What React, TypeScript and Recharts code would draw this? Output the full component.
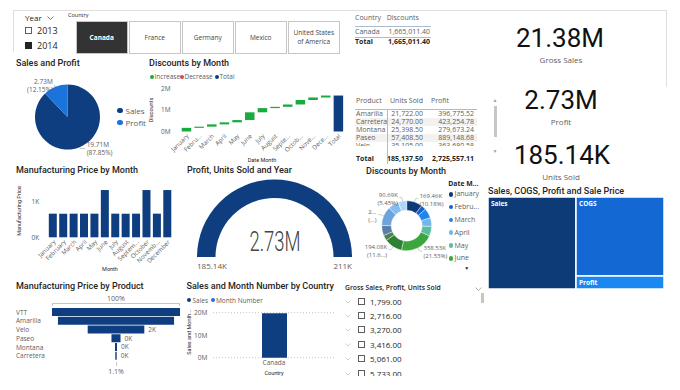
import React from "react";
import {
  PieChart, Pie, Cell, BarChart, Bar, XAxis, YAxis, CartesianGrid, Treemap, LabelList,
} from "recharts";

const DARK = "#0f3e80";
const MID = "#1b73dc";
const TEXT = "#252423";
const GRAY = "#605e5c";
const LINE = "#e1dfdd";
const DIN = "Roboto, 'DejaVu Sans', sans-serif";
const SEGOE = "'Open Sans', 'Noto Sans', sans-serif";
const RAD = Math.PI / 180;
const NO_MARGIN = { top: 0, right: 0, bottom: 0, left: 0 };

// slicers
const years = ["2013", "2014"];
const selectedYears = ["2014"];
const countries = ["Canada", "France", "Germany", "Mexico", "United States of America"];
const selectedCountry = "Canada";

// country / discounts table
const tableCountries = ["Canada"];
const tableDiscounts = [1665011.4];

// cards
const cardLabels = ["Gross Sales", "Profit", "Units Sold"];
const cardValues = [21380000, 2725557.11, 185137.5];

// sales and profit
const pieNames = ["Sales", "Profit"];
const pieValues = [19710000, 2725557];
const pieColors = [DARK, MID];

// discounts by month
const months = [
  "January", "February", "March", "April", "May", "June",
  "July", "August", "September", "October", "November", "December",
];
const monthDiscounts = [
  169460, 55000, 105000, 95000, 105540, 358530, 194080, 60000, 108000, 207630, 116080, 90690,
];
const waterfallTicks = [
  "January", "Febru...", "March", "April", "May", "June", "July", "August",
  "Septe...", "Octob...", "Nove...", "Dece...", "Total",
];
const waterfallKinds = ["Increase", "Decrease", "Total"];
const waterfallColors = ["#1aab40", "#d64554", DARK];

// product table
const products = ["Amarilla", "Carretera", "Montana", "Paseo", "Velo"];
const productUnits = [21722, 24770, 25398.5, 57408.5, 35105];
const productProfit = [396775.52, 423254.78, 279673.24, 889148.68, 363680.58];
const totalUnits = 185137.5;
const totalProfit = 2725557.11;

// manufacturing price by month
const mfgMonthTicks = [
  "January", "February", "March", "April", "May", "June", "July", "August",
  "Septem...", "October", "Novemb...", "December",
];
const mfgMonthValues = [665, 665, 665, 665, 665, 1330, 665, 665, 665, 1330, 665, 1330];

// gauge
const gaugeValue = 2725557.11;
const gaugeMin = 185140;
const gaugeMax = 211000;

// donut
const donutColors = [
  "#0f3a78", "#1860d0", "#1f86ea", "#6fb8ef", "#5cbd9c", "#3aa63d",
  "#2f7f34", "#4e7f52", "#5b7ea6", "#6ea4dc", "#84bdee", "#aed6f5",
];
const donutLegendTicks = ["January", "Febru...", "March", "April", "May", "June"];
const donutLabelled = [0, 5, 6, 9, 11];

// treemap
const treeNames = ["Sales", "COGS", "Profit"];
const treeValues = [19710000, 16984443, 2725557];
const treeColors = ["#0c3b78", "#1468d4", "#1a88f0"];

// funnel
const funnelProducts = ["VTT", "Amarilla", "Velo", "Paseo", "Montana", "Carretera"];
const funnelValues = [4520, 4100, 2000, 320, 70, 50];

// sales and month number by country
const salesCountries = ["Canada"];
const salesValues = [19710000];
const monthNumberValues = [78];
const salesSeries = ["Sales", "Month Number"];

// hierarchy slicer
const grossSalesItems = [1799, 2716, 3270, 3416, 5061, 5733];

const short = (v: number) =>
  v >= 1e6 ? `${(v / 1e6).toFixed(2)}M` : `${+(v / 1e3).toFixed(2)}K`;
const num2 = (v: number) =>
  v.toLocaleString("en-US", { minimumFractionDigits: 2, maximumFractionDigits: 2 });

let running = 0;
const waterfallData = monthDiscounts.map((d, i) => {
  const base = running;
  running += d;
  return { label: waterfallTicks[i], base, delta: d, kind: d >= 0 ? 0 : 1 };
});
waterfallData.push({ label: waterfallTicks[12], base: 0, delta: running, kind: 2 });

const mfgData = mfgMonthTicks.map((m, i) => ({ month: m, price: mfgMonthValues[i] }));
const pieData = pieNames.map((n, i) => ({ name: n, value: pieValues[i] }));
const donutData = months.map((m, i) => ({ name: m, value: monthDiscounts[i] }));
const treeData = treeNames.map((n, i) => ({ name: n, size: treeValues[i] }));
const funnelMax = Math.max(...funnelValues);
const funnelData = funnelProducts.map((p, i) => ({
  name: p, pad: (funnelMax - funnelValues[i]) / 2, value: funnelValues[i],
}));
const salesData = salesCountries.map((c, i) => ({
  country: c, sales: salesValues[i], monthNumber: monthNumberValues[i],
}));
const gaugeFill = Math.min(1, Math.max(0, (gaugeValue - gaugeMin) / (gaugeMax - gaugeMin)));
const gaugeData = [{ v: gaugeFill }, { v: 1 - gaugeFill }];

function Txt({ x, y, size = 8, color = TEXT, weight = 400, family = SEGOE, anchor = "start", children }: any) {
  const lh = Math.round(size * 1.4);
  const tx = anchor === "middle" ? "-50%" : anchor === "end" ? "-100%" : "0";
  return (
    <div style={{
      position: "absolute", left: x, top: y - lh / 2, lineHeight: `${lh}px`, fontSize: size,
      color, fontWeight: weight, fontFamily: family, whiteSpace: "nowrap", transform: `translateX(${tx})`,
    }}>{children}</div>
  );
}

function RotTxt({ x, y, size = 5.5, children }: any) {
  return (
    <div style={{
      position: "absolute", left: x, top: y, fontSize: size, lineHeight: `${size + 2}px`, color: TEXT,
      fontFamily: DIN, whiteSpace: "nowrap", transform: "translate(-50%, -50%) rotate(-90deg)",
    }}>{children}</div>
  );
}

const Title = ({ x, y, children }: any) => <Txt x={x} y={y} size={9} family={DIN} weight={500}>{children}</Txt>;

function Dot({ x, y, color, r = 2.6 }: any) {
  return <div style={{ position: "absolute", left: x - r, top: y - r, width: r * 2, height: r * 2, borderRadius: "50%", background: color }} />;
}

function Chevron({ x, y, color = GRAY, w = 6 }: any) {
  return (
    <svg style={{ position: "absolute", left: x, top: y }} width={w + 1} height={w / 2 + 1}>
      <polyline points={`0.5,0.5 ${w / 2 + 0.5},${w / 2 + 0.5} ${w + 0.5},0.5`} stroke={color} fill="none" strokeWidth={0.8} />
    </svg>
  );
}

function pieLabel(p: any) {
  const { cx, cy, midAngle, outerRadius, value, percent } = p;
  const cos = Math.cos(-midAngle * RAD);
  const sin = Math.sin(-midAngle * RAD);
  const sx = cx + outerRadius * cos, sy = cy + outerRadius * sin;
  const mx = cx + (outerRadius + 1.5) * cos, my = cy + (outerRadius + 1.5) * sin;
  const right = cos >= 0;
  const ex = mx + (right ? 5 : -1);
  const tx = ex + (right ? 1.5 : -1);
  return (
    <g>
      <polyline points={`${sx},${sy} ${mx},${my} ${ex},${my}`} stroke="#a19f9d" fill="none" strokeWidth={0.6} />
      <text x={tx} y={my} textAnchor={right ? "start" : "end"} fontSize={6.5} fill={GRAY} fontFamily={SEGOE}>
        <tspan x={tx} dy={-1.5}>{short(value)}</tspan>
        <tspan x={tx} dy={8}>({(percent * 100).toFixed(2)}%)</tspan>
      </text>
    </g>
  );
}

const charW = (s: string) =>
  s.split("").reduce((w, c) => w + (c === "." ? 2 : c === "(" || c === ")" ? 2.2 : 3.4), 0);
const fit = (s: string, avail: number) => {
  if (charW(s) <= avail) return s;
  for (let k = s.length - 1; k > 0; k--) {
    const c = s.slice(0, k) + "...";
    if (charW(c) <= avail) return c;
  }
  return "...";
};

function donutLabel(p: any) {
  const { cx, cy, midAngle, outerRadius, value, percent, index } = p;
  if (!donutLabelled.includes(index)) return null;
  const cos = Math.cos(-midAngle * RAD);
  const sin = Math.sin(-midAngle * RAD);
  const sx = cx + outerRadius * cos, sy = cy + outerRadius * sin;
  const mx = cx + (outerRadius + 3.5) * cos, my = cy + (outerRadius + 3.5) * sin;
  const right = cos >= 0;
  const ex = mx + (right ? 2.5 : -2.5);
  const tx = ex + (right ? 1.5 : -1.5);
  const avail = right ? 87 - tx : tx - 2;
  const l1 = fit(short(value), avail);
  const l2 = `(${fit(`${(percent * 100).toFixed(2)}%`, avail - 4.4)})`;
  return (
    <g>
      <polyline points={`${sx},${sy} ${mx},${my} ${ex},${my}`} stroke="#a19f9d" fill="none" strokeWidth={0.5} />
      <text x={tx} y={my} textAnchor={right ? "start" : "end"} fontSize={6} fill={GRAY} fontFamily={SEGOE}>
        <tspan x={tx} dy={-1}>{l1}</tspan>
        <tspan x={tx} dy={8}>{l2}</tspan>
      </text>
    </g>
  );
}

function TreeCell(props: any) {
  const { x, y, width, height, depth, name } = props;
  if (depth !== 1) return null;
  const i = treeNames.indexOf(name);
  return (
    <g>
      <rect x={x} y={y} width={width} height={height} fill={treeColors[i]} stroke="#fff" strokeWidth={1.5} />
      <text x={x + 3} y={y + 9} fontSize={6.5} fontWeight={700} fill="#fff" fontFamily={SEGOE}>{name}</text>
    </g>
  );
}

function FunnelTick({ y, payload }: any) {
  return <text x={16} y={y} dy={2.3} fontSize={6.5} fill={GRAY} fontFamily={SEGOE}>{payload.value}</text>;
}

function FunnelValue({ x, y, width, height, value }: any) {
  if (width > 80) return null;
  return (
    <text x={x + width + 4} y={y + height / 2} dy={2.3} fontSize={6.5} fill={GRAY} fontFamily={SEGOE}>
      {Math.round(value / 1000)}K
    </text>
  );
}

const tickStyle = { fontSize: 6.2, fill: GRAY, fontFamily: SEGOE };

export default function App() {
  return (
    <div style={{ position: "absolute", left: 0, top: 0, width: 680, height: 390, overflow: "hidden", background: "#fff", fontFamily: SEGOE }}>
      <div style={{ position: "absolute", left: 13, top: 10, width: 653, borderTop: `1px solid ${LINE}` }} />
      <div style={{ position: "absolute", left: 13, top: 10, height: 42, borderLeft: `1px solid ${LINE}` }} />
      <div style={{ position: "absolute", left: 666, top: 10, height: 77, borderLeft: `1px solid ${LINE}` }} />

      {/* year slicer */}
      <Txt x={25} y={17.5} size={8}>Year</Txt>
      <Chevron x={47} y={16} />
      {years.map((yr, i) => (
        <React.Fragment key={yr}>
          <div style={{
            position: "absolute", left: 25, top: 26.5 + i * 15, width: 7, height: 7, boxSizing: "border-box",
            border: `1px solid ${selectedYears.includes(yr) ? TEXT : GRAY}`,
            background: selectedYears.includes(yr) ? TEXT : "#fff",
          }} />
          <Txt x={37} y={30 + i * 15} size={9}>{yr}</Txt>
        </React.Fragment>
      ))}

      {/* country slicer */}
      <Txt x={68} y={15} size={5.5}>Country</Txt>
      {countries.map((c, i) => {
        const sel = c === selectedCountry;
        return (
          <div key={c} style={{
            position: "absolute", left: 76 + i * 53, top: 21, width: 51.5, height: 32.5, boxSizing: "border-box",
            border: "1px solid #c8c6c4", background: sel ? "#333" : "#fff", color: sel ? "#fff" : "#444",
            fontWeight: sel ? 700 : 400, fontSize: 6.5, lineHeight: "9px", display: "flex", alignItems: "center",
            justifyContent: "center", textAlign: "center", padding: 0, fontFamily: SEGOE,
          }}><span style={{ maxWidth: 45 }}>{c}</span></div>
        );
      })}

      {/* country / discounts table */}
      <Txt x={355} y={18.3} size={7} color={GRAY}>Country</Txt>
      <Txt x={386.7} y={18.3} size={7} color={GRAY}>Discounts</Txt>
      <div style={{ position: "absolute", left: 355, top: 25.5, width: 76, borderTop: "1px solid #a9bcd4" }} />
      {tableCountries.map((c, i) => (
        <React.Fragment key={c}>
          <Txt x={355} y={31.5 + i * 8} size={7} color={GRAY}>{c}</Txt>
          <Txt x={430} y={31.5 + i * 8} size={7} color={GRAY} anchor="end">{num2(tableDiscounts[i])}</Txt>
        </React.Fragment>
      ))}
      <div style={{ position: "absolute", left: 355, top: 36.5, width: 76, borderTop: "1px solid #a9bcd4" }} />
      <Txt x={355} y={42} size={7} weight={700}>Total</Txt>
      <Txt x={430} y={42} size={7} weight={700} anchor="end">{num2(tableDiscounts.reduce((a, b) => a + b, 0))}</Txt>

      {/* cards */}
      {cardLabels.map((l, i) => (
        <React.Fragment key={l}>
          <Txt x={560 + i} y={[37.5, 100, 154.7][i]} size={26} family={DIN} color="#111" anchor="middle">{short(cardValues[i])}</Txt>
          <Txt x={561} y={[59.5, 121.7, 176.7][i]} size={8} color={GRAY} anchor="middle">{l}</Txt>
        </React.Fragment>
      ))}

      {/* sales and profit pie */}
      <Title x={16} y={63}>Sales and Profit</Title>
      <div style={{ position: "absolute", left: 0, top: 70 }}>
        <PieChart width={150} height={100} margin={NO_MARGIN}>
          <Pie data={pieData} dataKey="value" cx={67.5} cy={47} outerRadius={32.5} startAngle={90} endAngle={-270}
            stroke="none" label={pieLabel} labelLine={false} isAnimationActive={false}>
            {pieData.map((d, i) => <Cell key={d.name} fill={pieColors[i]} />)}
          </Pie>
        </PieChart>
      </div>
      {pieNames.map((n, i) => (
        <React.Fragment key={n}>
          <Dot x={120} y={110.7 + i * 12} color={pieColors[i]} />
          <Txt x={125.5} y={110.7 + i * 12} size={8} color={GRAY}>{n}</Txt>
        </React.Fragment>
      ))}

      {/* discounts waterfall */}
      <Title x={149} y={63}>Discounts by Month</Title>
      {waterfallKinds.map((k, i) => (
        <React.Fragment key={k}>
          <Dot x={[151.7, 181.7, 216.7][i]} y={76.7} color={waterfallColors[i]} r={2.2} />
          <Txt x={[154.5, 184.5, 219.5][i]} y={76.7} size={6.5} color={GRAY}>{k}</Txt>
        </React.Fragment>
      ))}
      <RotTxt x={152} y={110}>Discounts</RotTxt>
      <Txt x={262} y={160} size={5.5} family={DIN} anchor="middle">Date Month</Txt>
      <div style={{ position: "absolute", left: 140, top: 80 }}>
        <BarChart width={215} height={90} data={waterfallData} margin={{ top: 8.3, right: 10.7, bottom: 0, left: 0 }}>
          <XAxis dataKey="label" interval={0} angle={-45} textAnchor="end" height={38.5} axisLine={false}
            tickLine={false} tickSize={0} tickMargin={2} tick={tickStyle} />
          <YAxis width={39.7} domain={[0, 2000000]} ticks={[0, 1000000, 2000000]} tickFormatter={(v) => `${v / 1e6}M`}
            axisLine={false} tickLine={false} tickSize={0} tickMargin={9} tick={{ ...tickStyle, fontSize: 6.5 }} />
          <Bar dataKey="base" stackId="w" fill="transparent" barSize={9.5} isAnimationActive={false} />
          <Bar dataKey="delta" stackId="w" barSize={9.5} isAnimationActive={false}>
            {waterfallData.map((d, i) => <Cell key={i} fill={waterfallColors[d.kind]} />)}
          </Bar>
        </BarChart>
      </div>

      {/* product table */}
      <div style={{ position: "absolute", left: 355, top: 95, width: 122, fontSize: 7, fontFamily: SEGOE }}>
        <div style={{ position: "relative", height: 14, borderBottom: "1px solid #a9bcd4", color: GRAY }}>
          <span style={{ position: "absolute", left: 1, top: 1 }}>Product</span>
          <span style={{ position: "absolute", left: 35, top: 1 }}>Units Sold</span>
          <span style={{ position: "absolute", left: 76, top: 1 }}>Profit</span>
        </div>
        <div style={{ height: 35.5, overflow: "hidden" }}>
          {products.map((p, i) => (
            <div key={p} style={{ position: "relative", height: 8, lineHeight: "8px", color: GRAY, background: i % 2 ? "#f3f2f1" : "#fff" }}>
              <span style={{ position: "absolute", left: 1 }}>{p}</span>
              <span style={{ position: "absolute", right: 54 }}>{num2(productUnits[i])}</span>
              <span style={{ position: "absolute", right: 3 }}>{num2(productProfit[i])}</span>
            </div>
          ))}
        </div>
        <div style={{ position: "relative", height: 10, marginTop: 8, lineHeight: "10px", fontWeight: 700, color: TEXT }}>
          <span style={{ position: "absolute", left: 1 }}>Total</span>
          <span style={{ position: "absolute", right: 54 }}>{num2(totalUnits)}</span>
          <span style={{ position: "absolute", right: 3 }}>{num2(totalProfit)}</span>
        </div>
        <div style={{ position: "absolute", left: 31.7, top: 15, height: 54, borderLeft: "1px solid #a9bcd4" }} />
      </div>
      <Txt x={495} y={100.5} size={5} color="#a19f9d" anchor="middle">▲</Txt>
      <Txt x={495} y={151.5} size={5} color="#a19f9d" anchor="middle">▼</Txt>
      <div style={{ position: "absolute", left: 493.5, top: 106, width: 3.5, height: 31, background: "#c8c6c4" }} />

      {/* manufacturing price by month */}
      <Title x={16} y={170}>Manufacturing Price by Month</Title>
      <RotTxt x={20} y={211}>Manufacturing Price</RotTxt>
      <Txt x={110} y={269} size={5.5} family={DIN} anchor="middle">Month</Txt>
      <div style={{ position: "absolute", left: 0, top: 175 }}>
        <BarChart width={185} height={100} data={mfgData} margin={{ top: 9, right: 12.3, bottom: 0, left: 0 }}>
          <XAxis dataKey="month" interval={0} angle={-45} textAnchor="end" height={37.7} axisLine={false}
            tickLine={false} tickSize={0} tickMargin={2} tick={tickStyle} />
          <YAxis width={47.8} domain={[0, 1500]} ticks={[0, 1000]} tickFormatter={(v) => `${v / 1000}K`}
            axisLine={false} tickLine={false} tickSize={0} tickMargin={8.5} tick={{ ...tickStyle, fontSize: 6.5 }} />
          <Bar dataKey="price" fill={DARK} barSize={8} isAnimationActive={false} />
        </BarChart>
      </div>

      {/* gauge */}
      <Title x={187} y={170.5}>Profit, Units Sold and Year</Title>
      <div style={{ position: "absolute", left: 185, top: 175 }}>
        <PieChart width={180} height={100} margin={NO_MARGIN}>
          <Pie data={gaugeData} dataKey="v" cx={89.5} cy={82} innerRadius={59} outerRadius={77.5}
            startAngle={180} endAngle={0} stroke="none" isAnimationActive={false}>
            <Cell fill={DARK} />
            <Cell fill="#e6e6e6" />
          </Pie>
        </PieChart>
      </div>
      <div style={{
        position: "absolute", left: 274.5, top: 242, fontSize: 28, lineHeight: "32px", fontFamily: DIN, fontWeight: 300,
        color: "#444", whiteSpace: "nowrap", transform: "translate(-50%, -50%) scaleX(0.66)",
      }}>{short(gaugeValue)}</div>
      <Txt x={197} y={265.3} size={8} color={GRAY}>{short(gaugeMin)}</Txt>
      <Txt x={352} y={265.3} size={8} color={GRAY} anchor="end">{short(gaugeMax)}</Txt>

      {/* discounts donut */}
      <Title x={366} y={171}>Discounts by Month</Title>
      <div style={{ position: "absolute", left: 362, top: 180 }}>
        <PieChart width={88} height={95} margin={NO_MARGIN}>
          <Pie data={donutData} dataKey="value" cx={44.7} cy={45.7} innerRadius={15.5} outerRadius={25}
            startAngle={90} endAngle={-270} stroke="#fff" strokeWidth={0.4} label={donutLabel} labelLine={false}
            isAnimationActive={false}>
            {donutData.map((d, i) => <Cell key={d.name} fill={donutColors[i]} />)}
          </Pie>
        </PieChart>
      </div>
      <Txt x={448.3} y={184} size={6.8} weight={700}>Date M...</Txt>
      {donutLegendTicks.map((m, i) => (
        <React.Fragment key={m}>
          <Dot x={451} y={194.3 + i * 12.8} color={donutColors[i]} r={2.4} />
          <Txt x={454.5} y={194.3 + i * 12.8} size={7} color={GRAY}>{m}</Txt>
        </React.Fragment>
      ))}
      <Txt x={466.7} y={268.3} size={5} color={TEXT} anchor="middle">▼</Txt>

      {/* treemap */}
      <Title x={488} y={191}>Sales, COGS, Profit and Sale Price</Title>
      <div style={{ position: "absolute", left: 488, top: 197 }}>
        <Treemap width={176} height={92} data={treeData} dataKey="size" content={<TreeCell />} isAnimationActive={false} />
      </div>

      {/* funnel */}
      <Title x={16} y={286}>Manufacturing Price by Product</Title>
      <Txt x={116} y={299} size={7} color={GRAY} anchor="middle">{Math.round((funnelValues[0] / funnelMax) * 100)}%</Txt>
      <div style={{ position: "absolute", left: 52, top: 303, width: 128, height: 3, boxSizing: "border-box", borderTop: "1px solid #c8c6c4", borderLeft: "1px solid #c8c6c4", borderRight: "1px solid #c8c6c4" }} />
      <div style={{ position: "absolute", left: 52, top: 307.5 }}>
        <BarChart layout="vertical" width={133} height={52.5} data={funnelData} margin={{ top: 0, right: 5, bottom: 0, left: 0 }}>
          <XAxis type="number" hide domain={[0, funnelMax]} />
          <YAxis type="category" dataKey="name" hide />
          <Bar dataKey="pad" stackId="f" fill="transparent" barSize={8} isAnimationActive={false} />
          <Bar dataKey="value" stackId="f" fill={DARK} barSize={8} isAnimationActive={false}>
            <LabelList dataKey="value" content={<FunnelValue />} />
          </Bar>
        </BarChart>
      </div>
      <div style={{ position: "absolute", left: 0, top: 307.5 }}>
        <BarChart layout="vertical" width={52} height={52.5} data={funnelData} margin={NO_MARGIN}>
          <XAxis type="number" hide />
          <YAxis type="category" dataKey="name" width={52} axisLine={false} tickLine={false} interval={0} tick={<FunnelTick />} />
        </BarChart>
      </div>
      <div style={{ position: "absolute", left: 116, top: 362, height: 4, borderLeft: "1px solid #c8c6c4" }} />
      <Txt x={116} y={371.7} size={7} color={GRAY} anchor="middle">
        {((funnelValues[funnelValues.length - 1] / funnelMax) * 100).toFixed(1)}%
      </Txt>

      {/* sales and month number by country */}
      <Title x={186.5} y={286}>Sales and Month Number by Country</Title>
      {salesSeries.map((s, i) => (
        <React.Fragment key={s}>
          <Dot x={[189.3, 212.7][i]} y={300} color={[DARK, MID][i]} r={2.2} />
          <Txt x={[192.5, 215.9][i]} y={300} size={6.5} color={GRAY}>{s}</Txt>
        </React.Fragment>
      ))}
      <RotTxt x={190} y={332}>Sales and Month...</RotTxt>
      <Txt x={274} y={373.3} size={5.5} family={DIN} anchor="middle">Country</Txt>
      <div style={{ position: "absolute", left: 185, top: 290 }}>
        <BarChart width={155} height={95} data={salesData} margin={{ top: 22.7, right: 5, bottom: 0, left: 0 }} barGap={-25}>
          <CartesianGrid vertical={false} stroke="#c8c6c4" strokeDasharray="1 2" />
          <XAxis dataKey="country" axisLine={false} tickLine={false} tickSize={0} tickMargin={3} height={27.3}
            tick={{ ...tickStyle, fontSize: 6.5 }} />
          <YAxis width={28} domain={[0, 20000000]} ticks={[0, 10000000, 20000000]} tickFormatter={(v) => `${v / 1e6}M`}
            axisLine={false} tickLine={false} tickSize={0} tickMargin={5.7} tick={{ ...tickStyle, fontSize: 6.5 }} />
          <Bar dataKey="sales" fill={DARK} barSize={25} isAnimationActive={false} />
          <Bar dataKey="monthNumber" fill={MID} barSize={25} isAnimationActive={false} />
        </BarChart>
      </div>

      {/* hierarchy slicer */}
      <Txt x={345} y={287.7} size={6.8} weight={600}>Gross Sales, Profit, Units Sold</Txt>
      <Chevron x={475} y={286.5} color="#a19f9d" />
      <div style={{ position: "absolute", left: 340, top: 293, width: 140, height: 83, overflow: "hidden" }}>
        {grossSalesItems.map((v, i) => (
          <React.Fragment key={v}>
            <Chevron x={5} y={6.5 + i * 14.4} color="#c8c6c4" w={5} />
            <div style={{ position: "absolute", left: 18, top: 4.5 + i * 14.4, width: 7, height: 7, boxSizing: "border-box", border: `0.8px solid ${GRAY}` }} />
            <Txt x={30} y={8 + i * 14.4} size={8}>{num2(v)}</Txt>
          </React.Fragment>
        ))}
      </div>
      <div style={{ position: "absolute", left: 481, top: 293, width: 3, height: 10, background: "#c8c6c4" }} />
    </div>
  );
}
